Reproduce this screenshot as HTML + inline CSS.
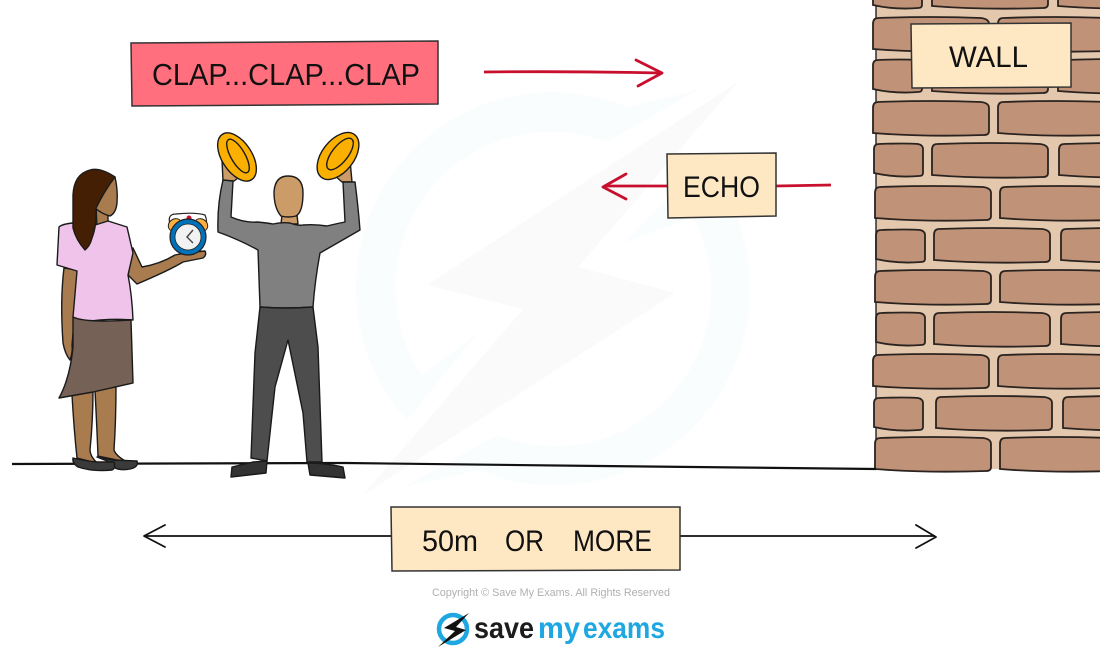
<!DOCTYPE html>
<html><head><meta charset="utf-8"><style>
html,body{margin:0;padding:0;background:#fff}
svg{display:block}
text{font-family:"Liberation Sans",sans-serif}
</style></head><body>
<svg width="1100" height="663" viewBox="0 0 1100 663" xmlns="http://www.w3.org/2000/svg">
<defs>
<path id="m" d="M0,32 L0,7 Q0,1 5,1 Q60,-1 108,1 Q116,2 116,7 L116,30 Q116,34 111,34 Q50,36 0,32Z" fill="#c09378" stroke="#2a2320" stroke-width="1.800"/>
<path id="s" d="M0,30 L0,6 Q0,1 5,1 Q30,0 44,1 Q49,2 49,6 L49,30 Q49,33 45,33 Q22,35 0,30Z" fill="#c09378" stroke="#2a2320" stroke-width="1.800"/>
</defs>
<!-- watermark -->
<path fill="#fafdfe" d="M698,90 L627,107 A196,196 0 0 0 407,420 L478,333 L422,375 A156,156 0 0 1 607,142 Z"/>
<path fill="#fafdfe" d="M403,487 L497,435 A156,156 0 0 0 693,217 L623,243 L666,200 L730,203 A196,196 0 0 1 478,470 Z"/>
<path fill="#fafafa" d="M738,82 L578,267 L675,293 L363,495 L523,309 L427,285 Z"/>
<!-- wall -->
<rect x="876" y="0" width="224" height="469" fill="#e3c8ae"/>
<path d="M876,0 V469" stroke="#222" stroke-width="1.400"/>
<use href="#s" x="873" y="-25"/><use href="#m" x="932" y="-26"/><use href="#m" x="1058" y="-26"/>
<use href="#m" x="873" y="17"/><use href="#m" x="998" y="17"/>
<use href="#s" x="873" y="59"/><use href="#m" x="932" y="59"/><use href="#m" x="1058" y="59"/>
<use href="#m" x="873" y="101"/><use href="#m" x="998" y="101"/>
<use href="#s" x="874" y="143"/><use href="#m" x="932" y="143"/><use href="#m" x="1059" y="143"/>
<use href="#m" x="875" y="186"/><use href="#m" x="1000" y="186"/>
<use href="#s" x="876" y="229"/><use href="#m" x="934" y="228"/><use href="#m" x="1061" y="228"/>
<use href="#m" x="875" y="270"/><use href="#m" x="1000" y="270"/>
<use href="#s" x="876" y="312"/><use href="#m" x="934" y="312"/><use href="#m" x="1061" y="312"/>
<use href="#m" x="873" y="354"/><use href="#m" x="998" y="354"/>
<use href="#s" x="874" y="397"/><use href="#m" x="936" y="396"/><use href="#m" x="1063" y="396"/>
<use href="#m" x="875" y="437"/><use href="#m" x="1000" y="437"/>
<!-- ground -->
<path d="M12,464 L345,463 L600,466 L876,469" fill="none" stroke="#111" stroke-width="2.200"/>
<!-- woman -->
<g stroke="#1a1a1a" stroke-width="1.400" stroke-linejoin="round">
<path fill="#a97c50" d="M64,268 Q60,300 63,343 Q65,354 70,360 Q73,352 72,345 L76,300 L78,270Z"/>
<path fill="#a97c50" d="M72,395 Q74,430 77,458 L97,463 Q90,456 90,450 Q93,420 93,390Z"/>
<path fill="#a97c50" d="M95,390 Q97,430 98,456 L127,462 Q116,456 114,450 Q116,420 116,385Z"/>
<path fill="#a97c50" d="M96,205 L97,228 L108,222 L108,212Z"/>
<path fill="#a97c50" d="M133,248 L142,267 Q160,264 175,255 Q190,252 205,251 Q207,255 203,258 L183,262 Q170,270 137,284 L128,275Z"/>
<path fill="#a97c50" d="M115,177 Q118,190 117,203 Q116,213 110,216 Q102,214 95,208 L100,190Z"/>
<path fill="#f0c4ea" d="M59,227 Q62,224 73,223 L92,226 L108,221 L127,227 L133,253 L128,275 Q132,295 133,320 Q110,318 83,322 Q76,322 73,317 L77,271 L57,265Z"/>
<path fill="#451f03" d="M115,177 Q100,167 90,170 Q74,174 73,195 L73,228 Q76,240 85,250 Q90,246 92,238 Q97,225 96,208 Q105,190 115,177Z"/>
<path fill="#756155" d="M73,317 Q85,323 131,320 L133,383 L93,392 L59,398 Q70,378 73,347Z"/>
<path fill="#3a3a3a" d="M97,457 L113,460 L137,461 Q139,467 130,469 Q120,471 113,467 L112,463Z"/>
<path fill="#3a3a3a" d="M73,458 Q85,461 97,462 L114,462 Q116,468 112,470 Q93,472 78,467 Q72,463 73,458Z"/>
</g>
<!-- clock -->
<path d="M170,224 Q167,214 176,214 Q195,212 205,215 Q208,222 205,226" fill="#fff" stroke="#222" stroke-width="1.200"/>
<ellipse cx="175" cy="225" rx="7" ry="6" fill="#fbb040" stroke="#222" stroke-width="1" transform="rotate(-35 175 225)"/>
<ellipse cx="201" cy="225" rx="7" ry="6" fill="#fbb040" stroke="#222" stroke-width="1" transform="rotate(35 201 225)"/>
<circle cx="189" cy="218" r="2.500" fill="#c8102e"/>
<circle cx="188" cy="237" r="18" fill="#0072bc" stroke="#222" stroke-width="1.200"/>
<circle cx="188" cy="237" r="13" fill="#f2f2f2" stroke="#222" stroke-width=".8"/>
<path d="M193,230 L187,237 L193,243" fill="none" stroke="#444" stroke-width="1.400"/>
<!-- man -->
<g stroke="#1a1a1a" stroke-width="1.400" stroke-linejoin="round">
<path fill="#cb9b68" d="M222,160 L223,181 L234,181 L242,175Z"/>
<path fill="#cb9b68" d="M350,160 L352,182 L342,182 L334,175Z"/>
<path fill="#cb9b68" d="M282,215 L297,215 L298,224 L281,224Z"/>
<path fill="#cb9b68" d="M288,176 Q303,176 303,193 Q303,212 296,216 Q288,218 281,216 Q274,208 274,192 Q275,176 288,176Z"/>
<path fill="#808080" d="M223,180 L233,181 L231,217 Q245,223 257,222 Q268,223 273,224 Q281,222 290,223 Q298,226 303,225 Q315,224 327,226 Q335,224 345,222 L343,182 L355,182 Q358,205 360,230 L320,253 Q315,280 313,307 Q285,309 260,307 L258,250 Q240,240 218,232 Q217,205 223,180Z"/>
<path fill="#4d4d4d" d="M260,307 Q285,309 313,307 L318,347 L322,462 L307,462 L303,413 L288,340 L275,387 L267,461 L251,458 L255,353Z"/>
<path fill="#333" d="M232,467 L253,462 L267,461 L266,473 L231,477Z"/>
<path fill="#333" d="M308,463 Q325,463 343,467 L345,478 L310,475Z"/>
<ellipse cx="237" cy="157" rx="27" ry="15" fill="#fbb000" transform="rotate(57 237 157)"/>
<ellipse cx="238" cy="156" rx="19" ry="7" fill="none" transform="rotate(60 238 156)"/>
<ellipse cx="338" cy="156" rx="27" ry="16" fill="#fbb000" transform="rotate(-52 338 156)"/>
<ellipse cx="340" cy="154" rx="19" ry="8" fill="none" transform="rotate(-52 340 154)"/>
</g>
<!-- labels -->
<path d="M131,43 L438,41 L438,104 L132,106Z" fill="#ff6f7d" stroke="#333" stroke-width="1.500"/>
<text x="152" y="85" font-size="31" textLength="268" lengthAdjust="spacingAndGlyphs" fill="#111">CLAP...CLAP...CLAP</text>
<path d="M484,72 Q570,71 660,73" fill="none" stroke="#c8102e" stroke-width="2.800"/>
<path d="M636,60 L662,73 L638,86" fill="none" stroke="#c8102e" stroke-width="2.800" stroke-linecap="round" stroke-linejoin="round"/>
<path d="M604,186 L667,186 M776,186 L831,185" fill="none" stroke="#c8102e" stroke-width="2.800"/>
<path d="M626,174 L603,187 L626,199" fill="none" stroke="#c8102e" stroke-width="2.800" stroke-linecap="round" stroke-linejoin="round"/>
<path d="M667,154 L776,153 L776,216 L668,218Z" fill="#fee7c3" stroke="#333" stroke-width="1.500"/>
<text x="683" y="197" font-size="30" textLength="77" lengthAdjust="spacingAndGlyphs" fill="#111">ECHO</text>
<path d="M911,24 L1071,23 L1071,87 L912,88Z" fill="#fee7c3" stroke="#333" stroke-width="1.500"/>
<text x="949" y="67" font-size="30" textLength="79" lengthAdjust="spacingAndGlyphs" fill="#111">WALL</text>
<path d="M145,536 H391 M680,536 H935" fill="none" stroke="#111" stroke-width="1.800"/>
<path d="M165,525 L144,536 L165,547 M916,525 L936,537 L916,548" fill="none" stroke="#111" stroke-width="1.800" stroke-linecap="round" stroke-linejoin="round"/>
<path d="M391,507 L680,507 L680,570 L392,571Z" fill="#fee7c3" stroke="#333" stroke-width="1.500"/>
<text x="422" y="551" font-size="30" textLength="56" lengthAdjust="spacingAndGlyphs" fill="#111">50m</text>
<text x="505" y="551" font-size="30" textLength="39" lengthAdjust="spacingAndGlyphs" fill="#111">OR</text>
<text x="573" y="551" font-size="30" textLength="79" lengthAdjust="spacingAndGlyphs" fill="#111">MORE</text>
<!-- footer -->
<text x="432" y="596" font-size="11" textLength="238" lengthAdjust="spacingAndGlyphs" fill="#b0b0b0">Copyright © Save My Exams. All Rights Reserved</text>
<circle cx="453" cy="629" r="14" fill="none" stroke="#1ea7e1" stroke-width="4.500"/>
<path d="M469,613 L444,628 L455,631 L438,647 L466,630 L456,627 Z" fill="#111"/>
<text x="474" y="638" font-size="30" font-weight="700" textLength="60" lengthAdjust="spacingAndGlyphs" fill="#1c1c1c">save</text>
<text x="538" y="638" font-size="30" font-weight="700" textLength="42" lengthAdjust="spacingAndGlyphs" fill="#1ea7e1">my</text>
<text x="583" y="638" font-size="30" font-weight="700" textLength="82" lengthAdjust="spacingAndGlyphs" fill="#1ea7e1">exams</text>
</svg>
</body></html>
